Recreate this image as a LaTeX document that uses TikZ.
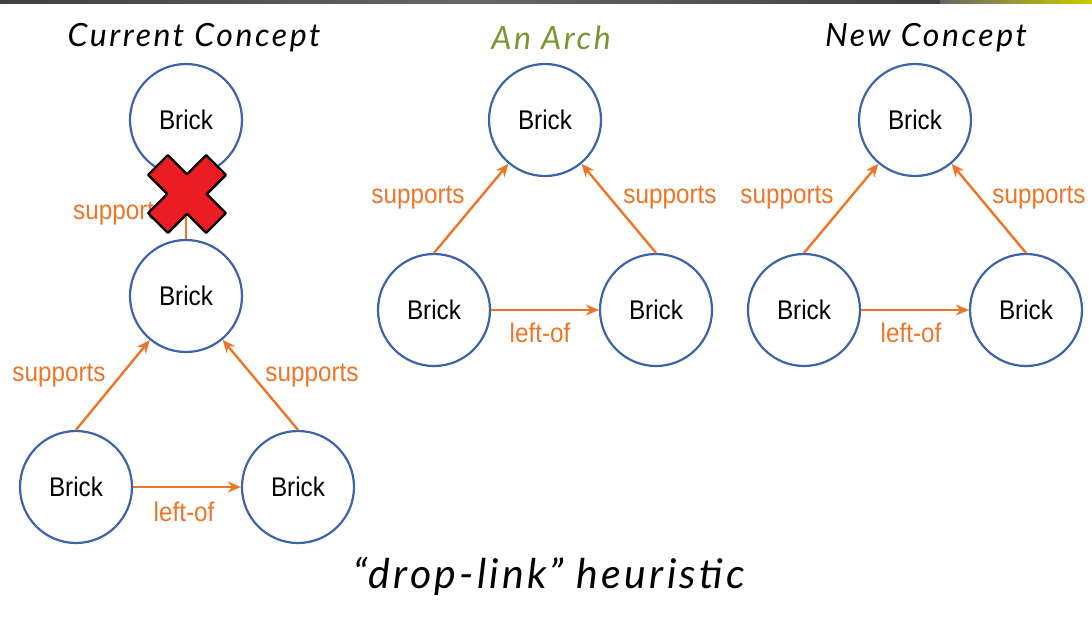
\documentclass[tikz,border=0pt]{standalone}
\usepackage{fontspec}
\setmainfont{Liberation Sans}
\newfontfamily\narrowsans{Liberation Sans}[FakeStretch=0.9]
\newfontfamily\hand{Lato}[LetterSpace=8]
\usetikzlibrary{arrows.meta}
\definecolor{brickblue}{RGB}{62,100,168}
\definecolor{linkorange}{RGB}{237,117,40}
\definecolor{archgreen}{RGB}{122,150,50}
\definecolor{xred}{RGB}{236,28,36}
\begin{document}
\begin{tikzpicture}[x=1pt,y=-1pt,
  brick/.style={circle, draw=brickblue, line width=2.2pt, minimum size=112pt, inner sep=0pt, font=\narrowsans\fontsize{27}{30}\selectfont},
  link/.style={draw=linkorange, line width=2.4pt, -{Stealth[length=13pt,width=11pt]}},
  plainlink/.style={draw=linkorange, line width=2.4pt},
  lbl/.style={text=linkorange, font=\narrowsans\fontsize{27}{30}\selectfont, inner sep=0pt},
  title/.style={font=\hand\itshape\fontsize{32}{36}\selectfont, inner sep=0pt},
  xmark/.style={fill=xred, draw=black, line width=2.4pt, line join=round}]
\useasboundingbox[fill=white] (0,0) rectangle (1092,619);
\shade[left color=black!75, right color=black!75, middle color=black!60] (0,0) rectangle (940,3);
\shade[left color=black!60, right color=yellow!80!black] (940,0) rectangle (1092,3);

% titles
\node[title] (t1) at (194,38) {Current Concept};
\node[title, text=archgreen] (t2) at (551,38) {An Arch};
\node[title] (t3) at (926,38) {New Concept};

% left column: current concept
\node[brick] (c1) at (186,120) {Brick};
\node[brick] (c2) at (186,296) {Brick};
\node[brick] (c3) at (76,487) {Brick};
\node[brick] (c4) at (298,487) {Brick};
\draw[plainlink] (c2) -- (c1);
\draw[link] (c3.north) -- (c2);
\draw[link] (c4.north) -- (c2);
\draw[link] (c3) -- (c4);
\node[lbl, anchor=west] (s0) at (73,214) {supports};
\node[lbl] (s1) at (59,376) {supports};
\node[lbl] (s2) at (312,376) {supports};
\node[lbl] (l1) at (184,512) {left-of};
\draw[xmark, shift={(187,194)}, rotate=45]
  (14,14) -- (41,14) -- (41,-14) -- (14,-14) -- (14,-41) -- (-14,-41) -- (-14,-14)
  -- (-41,-14) -- (-41,14) -- (-14,14) -- (-14,41) -- (14,41) -- cycle;

% middle column: an arch
\node[brick] (a1) at (545,120) {Brick};
\node[brick] (a2) at (434,310) {Brick};
\node[brick] (a3) at (656,310) {Brick};
\draw[link] (a2.north) -- (a1);
\draw[link] (a3.north) -- (a1);
\draw[link] (a2) -- (a3);
\node[lbl] (s3) at (418,198) {supports};
\node[lbl] (s4) at (670,198) {supports};
\node[lbl] (l2) at (540,333) {left-of};

% right column: new concept
\node[brick] (n1) at (915,120) {Brick};
\node[brick] (n2) at (804,310) {Brick};
\node[brick] (n3) at (1026,310) {Brick};
\draw[link] (n2.north) -- (n1);
\draw[link] (n3.north) -- (n1);
\draw[link] (n2) -- (n3);
\node[lbl] (s5) at (787,198) {supports};
\node[lbl] (s6) at (1039,198) {supports};
\node[lbl] (l3) at (911,333) {left-of};

% caption
\node[font=\hand\itshape\fontsize{41}{46}\selectfont, inner sep=0pt] (cap) at (549,576) {“drop-link” heuristic};
\end{tikzpicture}
\end{document}
